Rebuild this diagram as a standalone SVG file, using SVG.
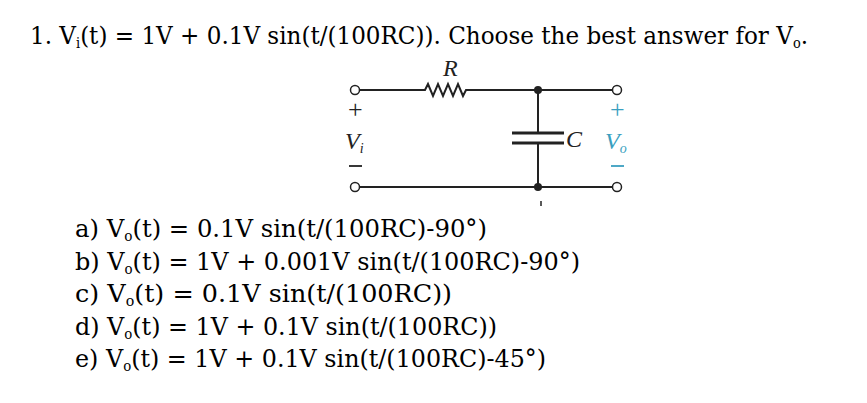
<svg xmlns="http://www.w3.org/2000/svg" width="867" height="403" viewBox="0 0 867 403">
<style>
.t{font-family:"DejaVu Serif","Liberation Serif",serif;font-size:25px;fill:#000}
.w{stroke:#222;stroke-width:2;fill:none}
.term{stroke:#222;stroke-width:1.5;fill:#fff}
.lab{font-family:"Liberation Serif",serif;font-style:italic;font-size:24px;fill:#222}
.pl{font-family:"Liberation Serif",serif;font-size:26px;fill:#222}
.sub{font-size:14px}
.blue{fill:#3a9fc0}
</style>
<rect width="867" height="403" fill="#fff"/>
<text class="t" x="30" y="44" textLength="778" lengthAdjust="spacingAndGlyphs">1. V<tspan class="sub" dy="4">i</tspan><tspan dy="-4">(t) = 1V + 0.1V sin(t/(100RC)). Choose the best answer for V</tspan><tspan class="sub" dy="4">o</tspan><tspan dy="-4">.</tspan></text>
<g id="connectors">
<path class="w" d="M359 90 H425 l3 -6 l5 12 l5 -12 l5 12 l5 -12 l5 12 l5 -12 l5 12 l3 -6 H613"/>
<path class="w" d="M359 187 H613"/>
<path class="w" d="M538 90 V133 M538 143 V187"/>
<path stroke="#222" stroke-width="3" d="M512 133 H564 M512 143 H564"/>
<circle cx="538" cy="90" r="4" fill="#222"/>
<circle cx="538" cy="187" r="4" fill="#222"/>
</g>
<g id="vin">
<circle class="term" cx="355" cy="90" r="4.5"/>
<circle class="term" cx="355" cy="187" r="4.5"/>
<text class="pl" x="348" y="118">+</text>
<text class="lab" x="345" y="149">V<tspan class="sub" dy="4">i</tspan></text>
<path stroke="#222" stroke-width="1.8" d="M349 166 H362"/>
</g>
<g id="vout">
<circle class="term" cx="617" cy="90" r="4.5"/>
<circle class="term" cx="617" cy="187" r="4.5"/>
<text class="pl blue" x="610" y="118">+</text>
<text class="lab blue" x="605" y="149">V<tspan class="sub" dy="4">o</tspan></text>
<path stroke="#3a9fc0" stroke-width="1.8" d="M611 166 H624"/>
</g>
<text class="lab" x="443" y="76">R</text>
<text class="lab" x="566" y="147">C</text>
<path stroke="#222" stroke-width="1.5" d="M541 201 V206"/>
<g id="answers">
<text class="t" x="75" y="237" textLength="412" lengthAdjust="spacingAndGlyphs">a) V<tspan class="sub" dy="4">o</tspan><tspan dy="-4">(t) = 0.1V sin(t/(100RC)-90°)</tspan></text>
<text class="t" x="75" y="270" textLength="505" lengthAdjust="spacingAndGlyphs">b) V<tspan class="sub" dy="4">o</tspan><tspan dy="-4">(t) = 1V + 0.001V sin(t/(100RC)-90°)</tspan></text>
<text class="t" x="75" y="302" textLength="377" lengthAdjust="spacingAndGlyphs">c) V<tspan class="sub" dy="4">o</tspan><tspan dy="-4">(t) = 0.1V sin(t/(100RC))</tspan></text>
<text class="t" x="75" y="335" textLength="422" lengthAdjust="spacingAndGlyphs">d) V<tspan class="sub" dy="4">o</tspan><tspan dy="-4">(t) = 1V + 0.1V sin(t/(100RC))</tspan></text>
<text class="t" x="75" y="367" textLength="471" lengthAdjust="spacingAndGlyphs">e) V<tspan class="sub" dy="4">o</tspan><tspan dy="-4">(t) = 1V + 0.1V sin(t/(100RC)-45°)</tspan></text>
</g>
</svg>
